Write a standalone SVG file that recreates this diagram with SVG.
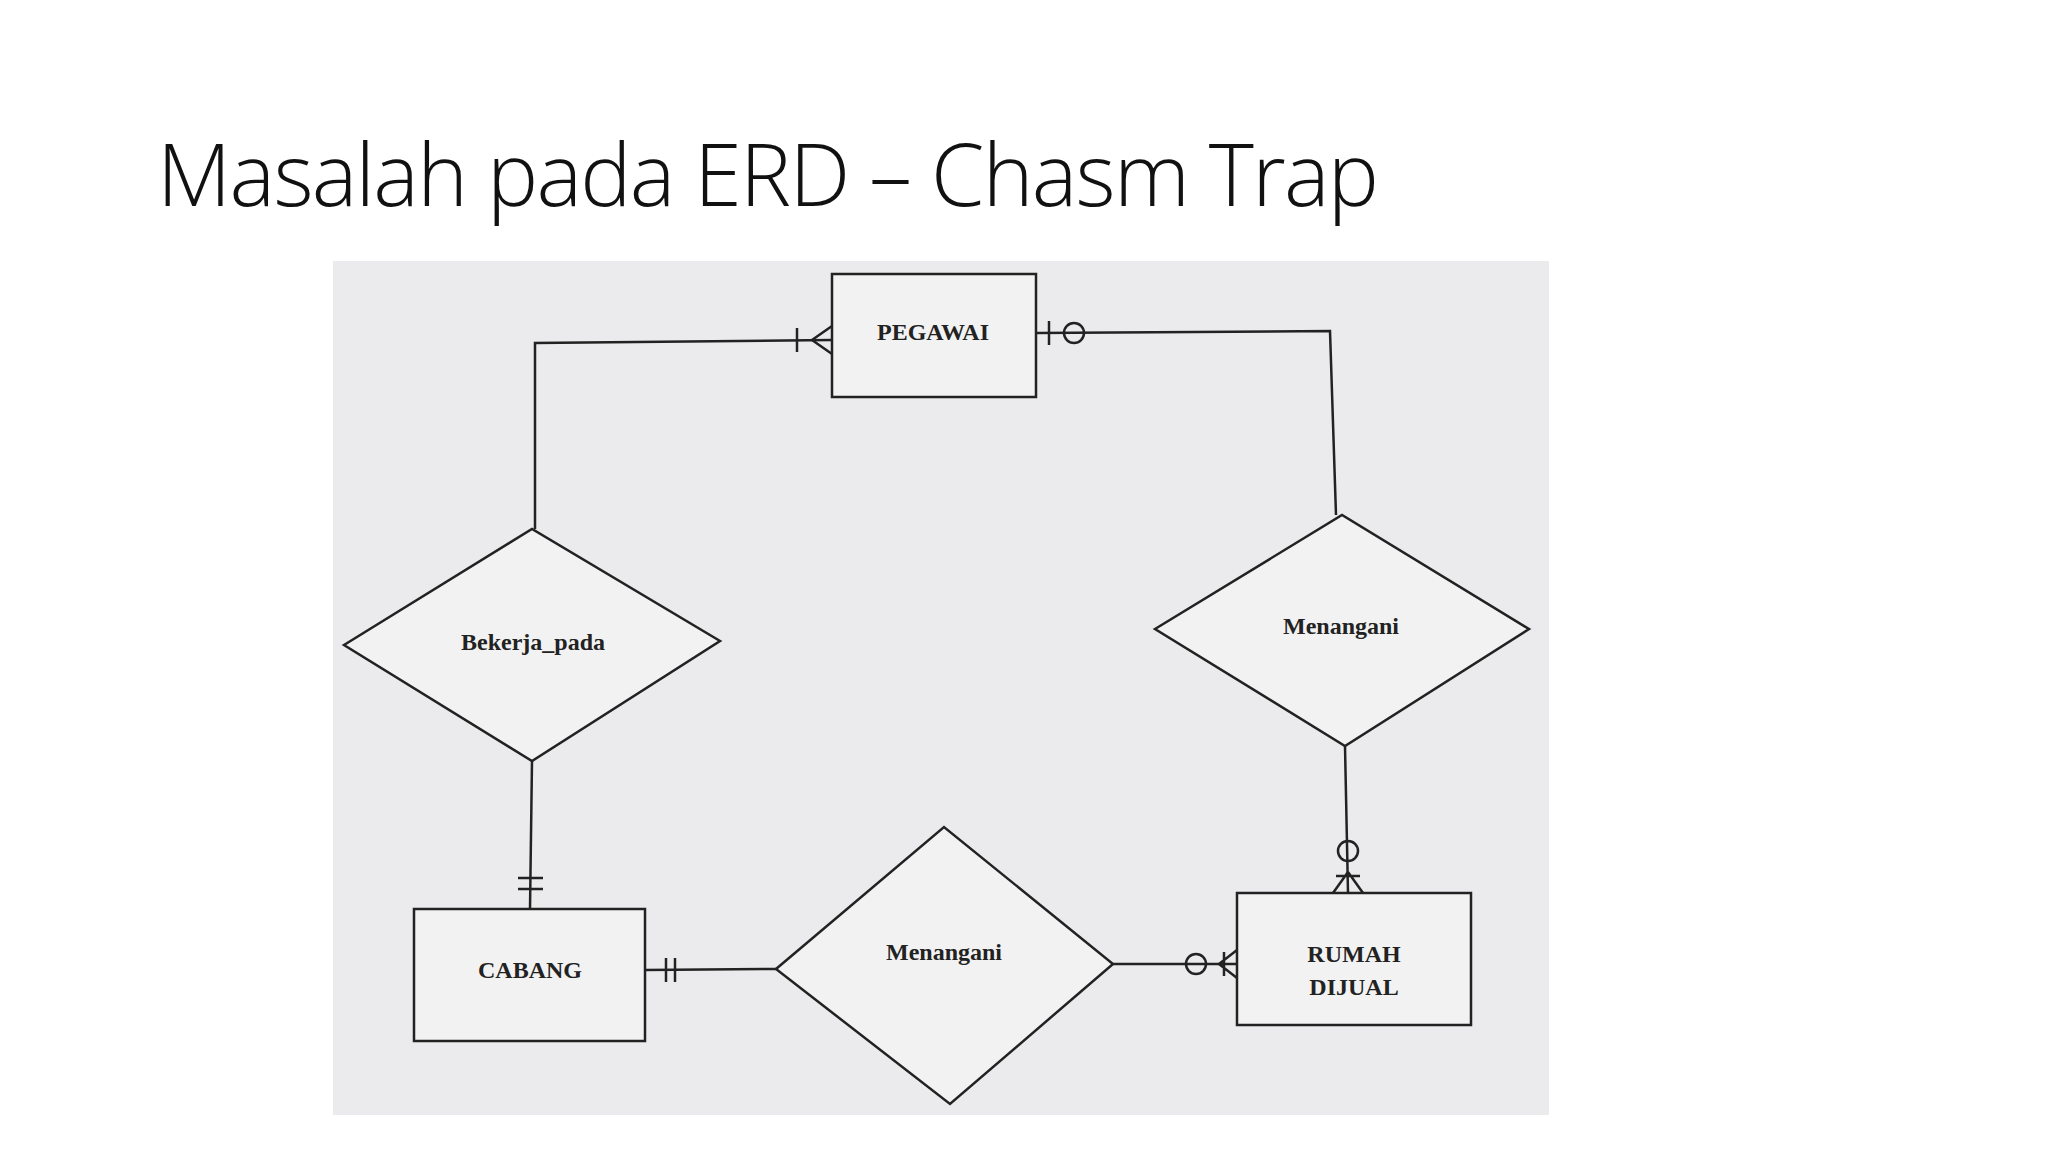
<svg xmlns="http://www.w3.org/2000/svg" width="2048" height="1152" viewBox="0 0 2048 1152">
<style>
.s{fill:none;stroke:#222;stroke-width:2.5}
.b{fill:#f2f2f3;stroke:#222;stroke-width:2.5}
.t{font-family:"Liberation Serif",serif;font-size:24px;font-weight:bold;fill:#222;text-anchor:middle}
</style>
<rect width="2048" height="1152" fill="#fff"/>
<text x="157" y="206" font-family="Open Sans, sans-serif" font-weight="300" font-size="86" fill="#111" textLength="1222">Masalah pada ERD – Chasm Trap</text>
<rect x="333" y="261" width="1216" height="854" fill="#ebebed"/>
<g id="connectors" class="s">
<path d="M832 340 L535 343 L535 529"/>
<path d="M797 328 V352 M812 340 L832 326 M812 340 L832 354"/>
<path d="M1036 333 L1330 331 L1336 515"/>
<path d="M1049 321 V345"/><circle cx="1074" cy="333" r="10"/>
<path d="M532 761 L530 909"/>
<path d="M518 878 H543 M518 889 H543"/>
<path d="M645 970 L776 969"/>
<path d="M666 958 V982 M675 958 V982"/>
<path d="M1113 964 L1237 964"/>
<circle cx="1196" cy="964" r="10"/>
<path d="M1219 964 L1237 950 M1219 964 L1237 978 M1224 952 V976"/>
<path d="M1345 746 L1348 893"/>
<circle cx="1348" cy="851" r="10"/>
<path d="M1348 872 L1333 893 M1348 872 L1363 893 M1336 876 H1360"/>
</g>
<g id="pegawai"><rect class="b" x="832" y="274" width="204" height="123"/><text class="t" x="933" y="340">PEGAWAI</text></g>
<g id="bekerja"><polygon class="b" points="344,645 532,529 720,641 532,761"/><text class="t" x="533" y="650">Bekerja_pada</text></g>
<g id="menangani1"><polygon class="b" points="1155,629 1342,515 1529,629 1345,746"/><text class="t" x="1341" y="634">Menangani</text></g>
<g id="cabang"><rect class="b" x="414" y="909" width="231" height="132"/><text class="t" x="530" y="978">CABANG</text></g>
<g id="menangani2"><polygon class="b" points="776,969 944,827 1113,964 950,1104"/><text class="t" x="944" y="960">Menangani</text></g>
<g id="rumah"><rect class="b" x="1237" y="893" width="234" height="132"/><text class="t" x="1354" y="962">RUMAH</text><text class="t" x="1354" y="995">DIJUAL</text></g>
</svg>
